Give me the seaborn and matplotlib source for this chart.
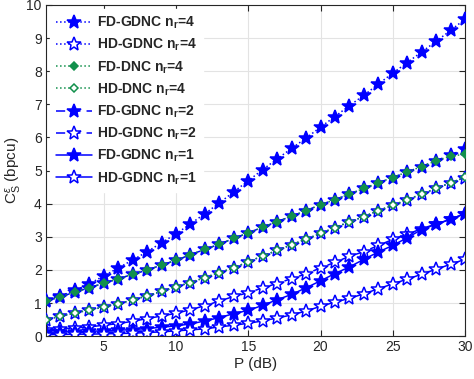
import numpy as np
import pandas as pd
import matplotlib
matplotlib.use("Agg")
import matplotlib.pyplot as plt
import seaborn as sns

# transmit power (dB)
P = list(range(1, 31))

fd_gdnc_4 = [1.08, 1.22, 1.38, 1.58, 1.82, 2.06, 2.30, 2.55, 2.82, 3.09,
             3.39, 3.70, 4.02, 4.36, 4.69, 5.03, 5.35, 5.67, 5.98, 6.31,
             6.63, 6.96, 7.27, 7.61, 7.94, 8.26, 8.58, 8.90, 9.23, 9.57]
hd_gdnc_4 = [0.50, 0.60, 0.70, 0.79, 0.88, 0.98, 1.09, 1.22, 1.35, 1.49,
             1.62, 1.77, 1.92, 2.06, 2.25, 2.42, 2.59, 2.76, 2.93, 3.10,
             3.28, 3.45, 3.61, 3.79, 3.95, 4.12, 4.29, 4.46, 4.63, 4.79]
fd_dnc_4 = [1.06, 1.19, 1.33, 1.46, 1.60, 1.73, 1.87, 1.99, 2.15, 2.29,
            2.46, 2.62, 2.78, 2.95, 3.12, 3.29, 3.46, 3.62, 3.79, 3.97,
            4.12, 4.29, 4.46, 4.63, 4.79, 4.96, 5.12, 5.29, 5.44, 5.49]
hd_dnc_4 = [0.50, 0.60, 0.70, 0.79, 0.88, 0.98, 1.09, 1.22, 1.35, 1.49,
            1.62, 1.77, 1.92, 2.06, 2.25, 2.42, 2.59, 2.76, 2.93, 3.10,
            3.28, 3.45, 3.61, 3.79, 3.95, 4.12, 4.29, 4.46, 4.63, 4.80]
fd_gdnc_2 = [1.06, 1.19, 1.33, 1.46, 1.60, 1.73, 1.87, 1.99, 2.15, 2.29,
             2.46, 2.62, 2.78, 2.95, 3.12, 3.29, 3.46, 3.62, 3.79, 3.97,
             4.12, 4.29, 4.46, 4.63, 4.79, 4.96, 5.12, 5.30, 5.47, 5.66]
hd_gdnc_2 = [0.20, 0.22, 0.25, 0.28, 0.33, 0.38, 0.45, 0.53, 0.61, 0.69,
             0.80, 0.92, 1.06, 1.20, 1.31, 1.46, 1.59, 1.74, 1.88, 2.06,
             2.23, 2.41, 2.55, 2.74, 2.92, 3.07, 3.25, 3.38, 3.53, 3.70]
fd_gdnc_1 = [0.12, 0.13, 0.14, 0.15, 0.16, 0.18, 0.20, 0.23, 0.27, 0.31,
             0.37, 0.46, 0.56, 0.68, 0.78, 0.93, 1.10, 1.26, 1.46, 1.67,
             1.89, 2.09, 2.32, 2.54, 2.74, 2.97, 3.22, 3.38, 3.53, 3.70]
hd_gdnc_1 = [0.05, 0.05, 0.06, 0.06, 0.07, 0.08, 0.09, 0.11, 0.13, 0.16,
             0.19, 0.22, 0.28, 0.33, 0.39, 0.46, 0.55, 0.64, 0.76, 0.90,
             1.03, 1.14, 1.28, 1.43, 1.58, 1.72, 1.87, 2.02, 2.17, 2.32]

labels = ['FD-GDNC', 'HD-GDNC', 'FD-DNC', 'HD-DNC',
          'FD-GDNC', 'HD-GDNC', 'FD-GDNC', 'HD-GDNC']
nr = [4, 4, 4, 4, 2, 2, 1, 1]
series = [fd_gdnc_4, hd_gdnc_4, fd_dnc_4, hd_dnc_4,
          fd_gdnc_2, hd_gdnc_2, fd_gdnc_1, hd_gdnc_1]

blue = '#0000ff'
green = '#12904c'
# (cor, estilo de linha, marcador, cheio, tamanho, zorder)
estilos = [
    (blue, ':', '*', True, 10.5, 3),
    (blue, ':', '*', False, 10, 3),
    (green, ':', 'D', True, 4.5, 5),
    (green, ':', 'D', False, 4.5, 5),
    (blue, (0, (6, 4)), '*', True, 10.5, 2),
    (blue, (0, (6, 4)), '*', False, 10, 2),
    (blue, '-', '*', True, 10.5, 2),
    (blue, '-', '*', False, 10, 2),
]

sns.set_style("whitegrid")
plt.rcParams['font.family'] = ['Liberation Sans', 'DejaVu Sans']
plt.rcParams['mathtext.fontset'] = 'custom'
plt.rcParams['mathtext.rm'] = 'Liberation Sans'
plt.rcParams['mathtext.it'] = 'Liberation Sans:italic'
plt.rcParams['mathtext.bf'] = 'Liberation Sans:bold'

fig = plt.figure(figsize=(4.74, 3.79), dpi=100)
ax = fig.add_axes([0.097, 0.113, 0.884, 0.874])

for nome, n, y, (cor, ls, mk, cheio, ms, z) in zip(labels, nr, series, estilos):
    sns.lineplot(x=P, y=y, ax=ax, color=cor, linestyle=ls, linewidth=1.1,
                 marker=mk, markersize=ms, zorder=z,
                 markerfacecolor=cor if cheio else 'white',
                 markeredgecolor=cor, markeredgewidth=1.1,
                 label=f'{nome} ' + r'$\mathbf{n_r}$' + f'={n}')

ax.set_xlim(1, 30)
ax.set_ylim(0, 10)
ax.set_xticks([5, 10, 15, 20, 25, 30])
ax.set_yticks(range(0, 11))
ax.grid(True, color='#e3e3e3', linewidth=0.8)
ax.tick_params(direction='in', length=4, labelsize=10, colors='#262626',
               top=True, right=True, bottom=True, left=True, pad=3)
for s in ax.spines.values():
    s.set_visible(True)
    s.set_color('#262626')
    s.set_linewidth(0.8)
ax.set_xlabel('P (dB)', fontsize=11, labelpad=2)
ax.set_ylabel(r'$\mathrm{C}_\mathrm{S}^{\epsilon}$ (bpcu)', fontsize=11, labelpad=2)

leg = ax.legend(loc='upper left', prop={'weight': 'bold', 'size': 10},
                frameon=True, fancybox=False, edgecolor='white',
                framealpha=1, handlelength=2.6, labelspacing=0.42,
                borderaxespad=0.3, handletextpad=0.4)
leg.set_zorder(10)

plt.savefig('out.png', dpi=100)
plt.close()
